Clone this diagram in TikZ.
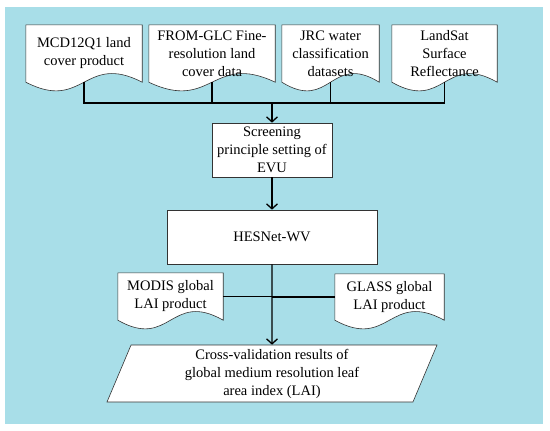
\documentclass[tikz,border=0pt]{standalone}
\usepackage{fontspec}
\setmainfont{Liberation Serif}
\usetikzlibrary{shapes.geometric,arrows.meta,backgrounds,calc}
\definecolor{skyfill}{RGB}{168,222,232}

% document outline with a wavy bottom, drawn round a named node
\newcommand{\docshape}[1]{%
  \draw[doc edge] (#1.south west) -- (#1.north west) -- (#1.north east) -- (#1.south east)
    .. controls ($(#1.south)+(0,-30)$) and ($(#1.south)+(0,30)$) .. (#1.south west) -- cycle;}

\begin{document}
\begin{tikzpicture}[x=1pt,y=-1pt,
  every node/.style={font=\fontsize{14.5}{18}\selectfont, align=center, inner sep=0pt},
  doc/.style={minimum height=57pt},
  box/.style={draw=black!80, fill=white, line width=0.6pt},
  doc edge/.style={draw=black!80, fill=white, line width=0.6pt},
  conn/.style={line width=1.3pt},
  arr/.style={conn, -{Straight Barb[length=5pt,width=11pt]}}]

\useasboundingbox (0,0) rectangle (550,431);

% input data
\node[doc, minimum width=116pt] (mcd) at (84,53.5) {MCD12Q1 land\\cover product};
\node[doc, minimum width=126pt] (glc) at (212,53.5) {FROM-GLC Fine-\\resolution land\\cover data};
\node[doc, minimum width=97pt] (jrc) at (330.5,53.5) {JRC water\\classification\\datasets};
\node[doc, minimum width=105pt] (lsat) at (444.5,53.5) {LandSat\\Surface\\Reflectance};

% processing
\node[box, minimum width=120pt, minimum height=54pt] (evu) at (272,150) {Screening\\principle setting of\\EVU};
\node[box, minimum width=210pt, minimum height=54pt] (hes) at (272,237) {HESNet-WV};

% reference products
\node[minimum width=105pt, minimum height=47pt] (modis) at (170.5,296.5) {MODIS global\\LAI product};
\node[minimum width=109pt, minimum height=46pt] (glass) at (389.5,297) {GLASS global\\LAI product};

\node[box, trapezium, trapezium left angle=64, trapezium right angle=116,
  trapezium stretches body, minimum width=330pt, minimum height=57pt] (lai) at (272,373.5)
  {Cross-validation results of\\global medium resolution leaf\\area index (LAI)};

\begin{scope}[on background layer]
\fill[skyfill] (5,7) rectangle (543,424);
\foreach \d in {mcd,glc,jrc,lsat,modis,glass} {\docshape{\d}}
\end{scope}

\coordinate (bus) at (272,103);
\draw[conn] (mcd.south) |- (bus) -| (lsat.south);
\draw[conn] (glc.south) -- (glc.south |- bus);
\draw[conn] (jrc.south) -- (jrc.south |- bus);
\draw[arr] (bus) -- (evu);
\draw[arr] (evu) -- (hes);
\draw[arr] (hes) -- (lai);
\draw[conn] (modis.east) -- (modis.east -| hes);
\draw[conn] (glass.west) -- (glass.west -| hes);

\end{tikzpicture}
\end{document}
